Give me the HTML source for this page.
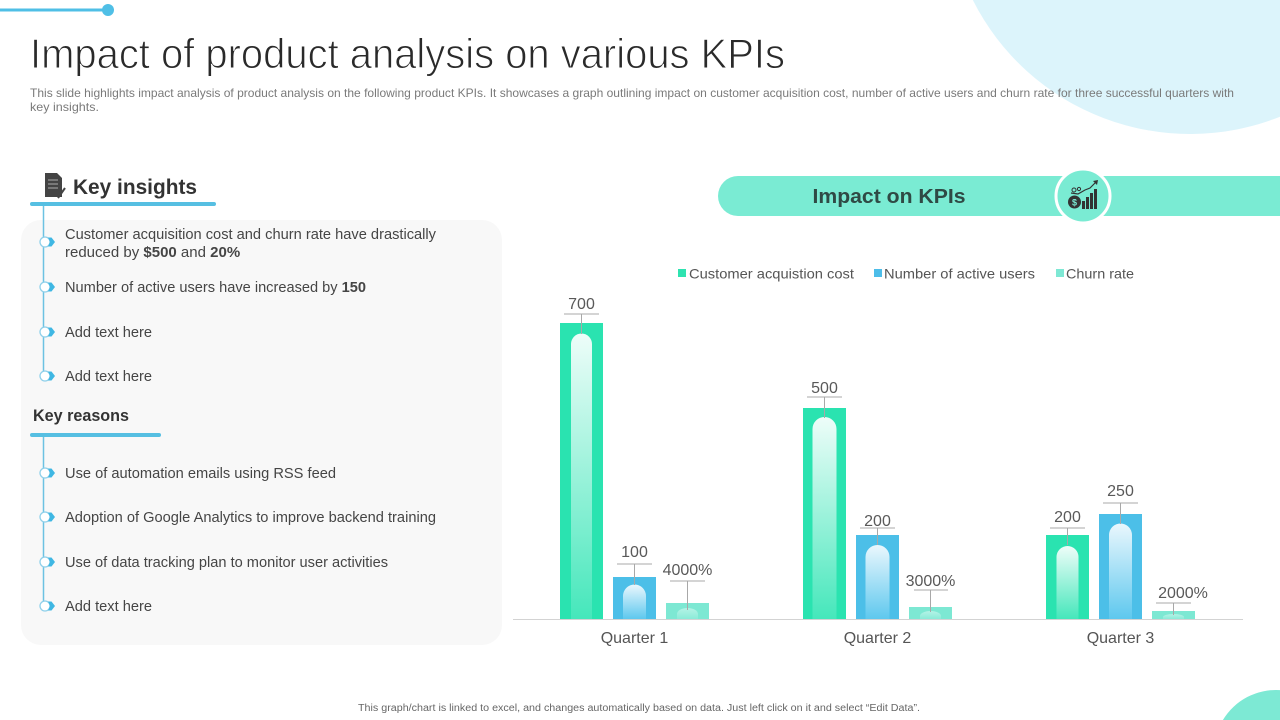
<!DOCTYPE html>
<html>
<head>
<meta charset="utf-8">
<style>
  html,body{margin:0;padding:0;background:#fff;width:1280px;height:720px;overflow:hidden;}
  svg{display:block;}
  text{font-family:"Liberation Sans", Arial, sans-serif;}
</style>
</head>
<body>
<svg width="1280" height="720" viewBox="0 0 1280 720" xmlns="http://www.w3.org/2000/svg">
  <defs>
    <linearGradient id="gG" x1="0" y1="0" x2="0" y2="1">
      <stop offset="0" stop-color="#eefdf9"/>
      <stop offset="1" stop-color="#45e7bb"/>
    </linearGradient>
    <linearGradient id="gB" x1="0" y1="0" x2="0" y2="1">
      <stop offset="0" stop-color="#eaf7fd"/>
      <stop offset="1" stop-color="#5ec8ee"/>
    </linearGradient>
    <linearGradient id="gC" x1="0" y1="0" x2="0" y2="1">
      <stop offset="0" stop-color="#b5f3e6"/>
      <stop offset="1" stop-color="#8aebd8"/>
    </linearGradient>
  </defs>

  <!-- decorative shapes -->
  <path d="M972.8 0 A243 243 0 0 0 1280 116.7 V0 Z" fill="#dcf4fb"/>
  <path d="M1222.9 720 A62 62 0 0 1 1280 690.1 V720 Z" fill="#7de9d4"/>
  <line x1="0" y1="10" x2="106" y2="10" stroke="#4fbfe6" stroke-width="3"/>
  <circle cx="108" cy="10" r="6" fill="#4fbfe6"/>

  <!-- title -->
  <text x="30" y="68" font-size="42" fill="#2a2a2a" stroke="#fff" stroke-width="1" textLength="755" lengthAdjust="spacingAndGlyphs">Impact of product analysis on various KPIs</text>
  <text x="30" y="97" font-size="12" fill="#7a7a7a" textLength="1204" lengthAdjust="spacingAndGlyphs">This slide highlights impact analysis of product analysis on the following product KPIs. It showcases a graph outlining impact on customer acquisition cost, number of active users and churn rate for three successful quarters with</text>
  <text x="30" y="111" font-size="12" fill="#7a7a7a" textLength="69" lengthAdjust="spacingAndGlyphs">key insights.</text>

  <!-- left panel -->
  <rect x="21" y="220" width="481" height="425" rx="20" fill="#f8f8f8"/>

  <!-- key insights header -->
  <path d="M45 173 H57 L62 178 V197 H45 Z" fill="#444"/>
  <line x1="48" y1="180" x2="58" y2="180" stroke="#9a9a9a" stroke-width="1.2"/>
  <line x1="48" y1="184" x2="58" y2="184" stroke="#9a9a9a" stroke-width="1.2"/>
  <line x1="48" y1="188" x2="58" y2="188" stroke="#9a9a9a" stroke-width="1.2"/>
  <line x1="58" y1="198" x2="65" y2="188" stroke="#444" stroke-width="2"/>
  <text x="73" y="194" font-size="21" font-weight="bold" fill="#333" textLength="124" lengthAdjust="spacingAndGlyphs">Key insights</text>
  <rect x="30" y="202" width="186" height="4" rx="2" fill="#56bfe2"/>

  <!-- timeline lines -->
  <line x1="43.5" y1="206" x2="43.5" y2="376" stroke="#6cc2e2" stroke-width="1.5"/>
  <line x1="43.5" y1="436" x2="43.5" y2="606" stroke="#6cc2e2" stroke-width="1.5"/>

  <!-- bullets -->
  <g>
    <g transform="translate(0,242)">
      <circle cx="45" cy="0" r="5" fill="#fff" stroke="#8fd0ea" stroke-width="1.3"/>
      <path d="M48 -4.5 H51.5 L55 0 L51.5 4.5 H48 L50 0 Z" fill="#3fb7e3"/>
    </g>
    <g transform="translate(0,287)">
      <circle cx="45" cy="0" r="5" fill="#fff" stroke="#8fd0ea" stroke-width="1.3"/>
      <path d="M48 -4.5 H51.5 L55 0 L51.5 4.5 H48 L50 0 Z" fill="#3fb7e3"/>
    </g>
    <g transform="translate(0,332)">
      <circle cx="45" cy="0" r="5" fill="#fff" stroke="#8fd0ea" stroke-width="1.3"/>
      <path d="M48 -4.5 H51.5 L55 0 L51.5 4.5 H48 L50 0 Z" fill="#3fb7e3"/>
    </g>
    <g transform="translate(0,376)">
      <circle cx="45" cy="0" r="5" fill="#fff" stroke="#8fd0ea" stroke-width="1.3"/>
      <path d="M48 -4.5 H51.5 L55 0 L51.5 4.5 H48 L50 0 Z" fill="#3fb7e3"/>
    </g>
    <g transform="translate(0,473)">
      <circle cx="45" cy="0" r="5" fill="#fff" stroke="#8fd0ea" stroke-width="1.3"/>
      <path d="M48 -4.5 H51.5 L55 0 L51.5 4.5 H48 L50 0 Z" fill="#3fb7e3"/>
    </g>
    <g transform="translate(0,517)">
      <circle cx="45" cy="0" r="5" fill="#fff" stroke="#8fd0ea" stroke-width="1.3"/>
      <path d="M48 -4.5 H51.5 L55 0 L51.5 4.5 H48 L50 0 Z" fill="#3fb7e3"/>
    </g>
    <g transform="translate(0,562)">
      <circle cx="45" cy="0" r="5" fill="#fff" stroke="#8fd0ea" stroke-width="1.3"/>
      <path d="M48 -4.5 H51.5 L55 0 L51.5 4.5 H48 L50 0 Z" fill="#3fb7e3"/>
    </g>
    <g transform="translate(0,606)">
      <circle cx="45" cy="0" r="5" fill="#fff" stroke="#8fd0ea" stroke-width="1.3"/>
      <path d="M48 -4.5 H51.5 L55 0 L51.5 4.5 H48 L50 0 Z" fill="#3fb7e3"/>
    </g>
  </g>

  <!-- insight texts -->
  <g font-size="15" fill="#454545">
    <text x="65" y="239" textLength="371" lengthAdjust="spacingAndGlyphs">Customer acquisition cost and churn rate have drastically</text>
    <text x="65" y="257">reduced by <tspan font-weight="bold">$500</tspan> and <tspan font-weight="bold">20%</tspan></text>
    <text x="65" y="292" textLength="301" lengthAdjust="spacingAndGlyphs">Number of active users have increased by <tspan font-weight="bold">150</tspan></text>
    <text x="65" y="337" textLength="87" lengthAdjust="spacingAndGlyphs">Add text here</text>
    <text x="65" y="381" textLength="87" lengthAdjust="spacingAndGlyphs">Add text here</text>
    <text x="65" y="478" textLength="271" lengthAdjust="spacingAndGlyphs">Use of automation emails using RSS feed</text>
    <text x="65" y="522" textLength="371" lengthAdjust="spacingAndGlyphs">Adoption of Google Analytics to improve backend training</text>
    <text x="65" y="567" textLength="323" lengthAdjust="spacingAndGlyphs">Use of data tracking plan to monitor user activities</text>
    <text x="65" y="611" textLength="87" lengthAdjust="spacingAndGlyphs">Add text here</text>
  </g>

  <!-- key reasons -->
  <text x="33" y="421" font-size="16.5" font-weight="bold" fill="#333" textLength="96" lengthAdjust="spacingAndGlyphs">Key reasons</text>
  <rect x="30" y="433" width="131" height="4" rx="2" fill="#56bfe2"/>

  <!-- KPI banner -->
  <path d="M738 176 H1280 V216 H738 A20 20 0 0 1 738 176 Z" fill="#7aebd3"/>
  <text x="889" y="203" font-size="20" font-weight="bold" fill="#2f4a45" text-anchor="middle" textLength="153" lengthAdjust="spacingAndGlyphs">Impact on KPIs</text>
  <circle cx="1083" cy="196" r="27" fill="#7aebd3" stroke="#fff" stroke-width="3"/>
  <g fill="#333" stroke="none">
    <circle cx="1074.5" cy="202" r="6.5"/>
    <rect x="1082" y="201" width="3" height="8"/>
    <rect x="1086" y="197" width="3" height="12"/>
    <rect x="1090" y="193" width="3" height="16"/>
    <rect x="1094" y="189" width="3" height="20"/>
  </g>
  <text x="1074.5" y="205.5" font-size="9" font-weight="bold" fill="#7aebd3" text-anchor="middle">$</text>
  <polyline points="1071,193 1078,194 1085,190 1090,188 1096,182" fill="none" stroke="#333" stroke-width="1.2"/>
  <path d="M1098 180 L1093 181 L1097 185 Z" fill="#333"/>
  <circle cx="1074" cy="190" r="2" fill="none" stroke="#333" stroke-width="1"/>
  <circle cx="1079" cy="189" r="1.6" fill="none" stroke="#333" stroke-width="1"/>

  <!-- legend -->
  <rect x="678" y="269" width="8" height="8" fill="#2ee3b0"/>
  <text x="689" y="278.5" font-size="14" fill="#555" textLength="165" lengthAdjust="spacingAndGlyphs">Customer acquistion cost</text>
  <rect x="874" y="269" width="8" height="8" fill="#4dbde9"/>
  <text x="884" y="278.5" font-size="14" fill="#555" textLength="151" lengthAdjust="spacingAndGlyphs">Number of active users</text>
  <rect x="1056" y="269" width="8" height="8" fill="#7ee8d4"/>
  <text x="1066" y="278.5" font-size="14" fill="#555" textLength="68" lengthAdjust="spacingAndGlyphs">Churn rate</text>

  <!-- axis -->
  <line x1="513" y1="619.5" x2="1243" y2="619.5" stroke="#d3d3d3" stroke-width="1"/>

  <!-- bars Q1 -->
  <rect x="560" y="323" width="43" height="296" fill="#2ae3b0"/>
  <path d="M571 619 V344 A10.5 10.5 0 0 1 592 344 V619 Z" fill="url(#gG)"/>
  <rect x="613" y="577" width="43" height="42" fill="#4cbfe8"/>
  <path d="M623 619 V596 A11.5 11.5 0 0 1 646 596 V619 Z" fill="url(#gB)"/>
  <rect x="666" y="603" width="43" height="16" fill="#7de8d3"/>
  <path d="M677 619 V614 A10.5 6 0 0 1 698 614 V619 Z" fill="url(#gC)"/>

  <!-- bars Q2 -->
  <rect x="803" y="408" width="43" height="211" fill="#2ae3b0"/>
  <path d="M812.5 619 V429 A12 12 0 0 1 836.5 429 V619 Z" fill="url(#gG)"/>
  <rect x="856" y="535" width="43" height="84" fill="#4cbfe8"/>
  <path d="M865.5 619 V557 A12 12 0 0 1 889.5 557 V619 Z" fill="url(#gB)"/>
  <rect x="909" y="607" width="43" height="12" fill="#7de8d3"/>
  <path d="M920 619 V616 A10.5 5 0 0 1 941 616 V619 Z" fill="url(#gC)"/>

  <!-- bars Q3 -->
  <rect x="1046" y="535" width="43" height="84" fill="#2ae3b0"/>
  <path d="M1056.5 619 V557 A11 11 0 0 1 1078.5 557 V619 Z" fill="url(#gG)"/>
  <rect x="1099" y="514" width="43" height="105" fill="#4cbfe8"/>
  <path d="M1109 619 V535 A11.5 11.5 0 0 1 1132 535 V619 Z" fill="url(#gB)"/>
  <rect x="1152" y="611" width="43" height="8" fill="#7de8d3"/>
  <path d="M1163 619 V617 A10.5 3 0 0 1 1184 617 V619 Z" fill="url(#gC)"/>

  <!-- leader lines -->
  <g stroke="#a8a8a8" stroke-width="1" fill="none">
    <path d="M564 314 H599 M581.5 314 V334"/>
    <path d="M617 564 H652 M634.5 564 V585"/>
    <path d="M670 581 H705 M687.5 581 V610"/>
    <path d="M807 397 H842 M824.5 397 V418"/>
    <path d="M860 528 H895 M877.5 528 V545"/>
    <path d="M914 590 H948 M930.5 590 V612"/>
    <path d="M1050 528 H1085 M1067.5 528 V545"/>
    <path d="M1103 503 H1138 M1120.5 503 V524"/>
    <path d="M1156 603 H1191 M1173.5 603 V615"/>
  </g>

  <!-- data labels -->
  <g font-size="16" fill="#595959" text-anchor="middle">
    <text x="581.5" y="309">700</text>
    <text x="634.5" y="557">100</text>
    <text x="687.5" y="575">4000%</text>
    <text x="824.5" y="393">500</text>
    <text x="877.5" y="526">200</text>
    <text x="930.5" y="586">3000%</text>
    <text x="1067.5" y="522">200</text>
    <text x="1120.5" y="496">250</text>
    <text x="1183" y="598">2000%</text>
  </g>

  <!-- categories -->
  <g font-size="16" fill="#555" text-anchor="middle">
    <text x="634.5" y="643">Quarter 1</text>
    <text x="877.5" y="643">Quarter 2</text>
    <text x="1120.5" y="643">Quarter 3</text>
  </g>

  <!-- footer -->
  <text x="358" y="711" font-size="10" fill="#666" textLength="562" lengthAdjust="spacingAndGlyphs">This graph/chart is linked to excel, and changes automatically based on data. Just left click on it and select “Edit Data”.</text>
</svg>
</body>
</html>
